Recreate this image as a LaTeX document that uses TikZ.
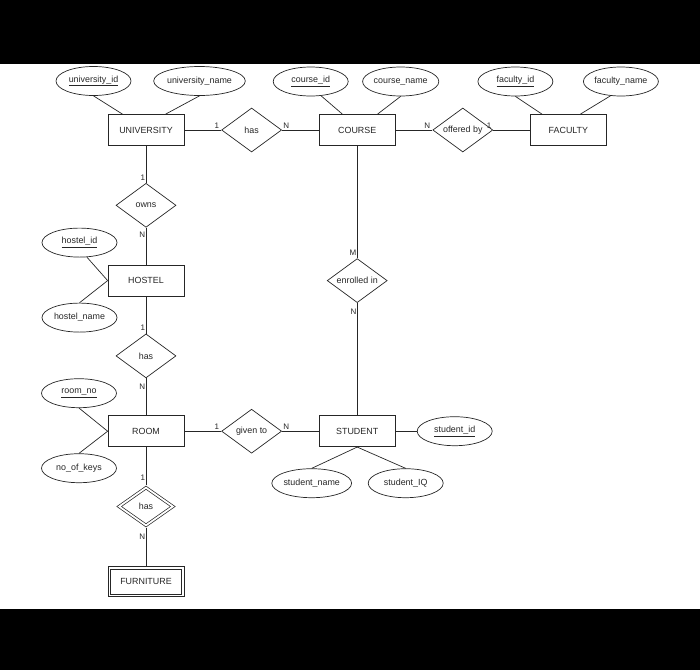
\documentclass[tikz,border=0pt]{standalone}
\usepackage{fontspec}
\setmainfont{Liberation Sans}
\usetikzlibrary{positioning,shapes.geometric}
\begin{document}
\begin{tikzpicture}[x=1pt,y=-1pt,on grid,node distance=75.3pt and 105.6pt,
 font=\fontsize{8.9}{10}\selectfont,
 entity/.style={shape=rectangle,draw=black!85,line width=0.7pt,minimum width=76pt,minimum height=31pt,inner sep=0pt,text=black!85},
 weakent/.style={shape=rectangle,draw=black!85,line width=0.8pt,minimum width=76pt,minimum height=30pt,inner sep=0pt,text=black!85},
 rel/.style={shape=diamond,aspect=1.36,draw=black!85,line width=0.7pt,minimum width=60pt,minimum height=44pt,inner sep=0pt,text=black!85},
 weakrel/.style={shape=diamond,aspect=1.36,draw=black!85,line width=0.7pt,double,double distance=1.8pt,minimum width=55pt,minimum height=39pt,inner sep=0pt,outer sep=1.6pt,text=black!85},
 attr/.style={shape=ellipse,draw=black!85,line width=0.7pt,minimum width=75pt,minimum height=29pt,inner sep=0pt,text=black!85},
 card/.style={inner sep=1.5pt,text=black!85,font=\fontsize{8}{9}\selectfont},
 link/.style={draw=black!85,line width=0.7pt}]
 \useasboundingbox (0,0) rectangle (700,670);
 \fill[black] (0,0) rectangle (700,64);
 \fill[black] (0,609) rectangle (700,670);

 \node[entity] (univ) at (146,130) {UNIVERSITY};
 \node[rel] (has1) [right=of univ] {has};
 \node[entity] (course) [right=of has1] {COURSE};
 \node[rel] (offer) [right=of course] {offered by};
 \node[entity] (fac) [right=of offer] {FACULTY};
 \node[rel] (owns) [below=of univ] {owns};
 \node[entity] (hostel) [below=of owns] {HOSTEL};
 \node[rel] (has2) [below=of hostel] {has};
 \node[entity] (room) [below=of has2] {ROOM};
 \node[weakrel] (has3) [below=of room] {has};
 \node[weakent] (furn) [below=of has3] {FURNITURE};
 \node[rel] (given) [right=of room] {given to};
 \node[entity] (student) [right=of given] {STUDENT};
 \node[rel] (enrol) at (course |- hostel) {enrolled in};
 \draw[black!85,line width=0.8pt] ([xshift=3pt,yshift=-3pt]furn.north west) rectangle ([xshift=-3pt,yshift=3pt]furn.south east);

 \node[attr] (uid) [above left=49pt and 52.5pt of univ] {\underline{university\_id}};
 \node[attr] (uname) [above right=49pt and 53.5pt of univ] {university\_name};
 \node[attr] (cid) [above left=48.5pt and 46.5pt of course] {\underline{course\_id}};
 \node[attr] (cname) [above right=48.5pt and 43.5pt of course] {course\_name};
 \node[attr] (fid) [above left=48.5pt and 53pt of fac] {\underline{faculty\_id}};
 \node[attr] (fname) [above right=48.5pt and 52.5pt of fac] {faculty\_name};
 \node[attr] (hid) [above left=38pt and 66.5pt of hostel] {\underline{hostel\_id}};
 \node[attr] (hname) [below left=37pt and 66.5pt of hostel] {hostel\_name};
 \node[attr] (rno) [above left=38pt and 67pt of room] {\underline{room\_no}};
 \node[attr] (nok) [below left=37pt and 67pt of room] {no\_of\_keys};
 \node[attr] (sid) [right=97.5pt of student] {\underline{student\_id}};
 \node[attr] (sname) [below left=52pt and 45.5pt of student] {student\_name};
 \node[attr] (siq) [below right=52pt and 48.5pt of student] {student\_IQ};

 \draw[link] (univ) -- node[card,pos=0.88,above]{1} (has1);
 \draw[link] (has1) -- node[card,pos=0.12,above]{N} (course);
 \draw[link] (course) -- node[card,pos=0.86,above]{N} (offer);
 \draw[link] (offer) -- node[card,pos=0.0,above left]{1} (fac);
 \draw[link] (univ) -- node[card,pos=0.85,left,inner sep=0.5pt]{1} (owns);
 \draw[link] (owns) -- node[card,pos=0.18,left,inner sep=0.5pt]{N} (hostel);
 \draw[link] (hostel) -- node[card,pos=0.83,left,inner sep=0.5pt]{1} (has2);
 \draw[link] (has2) -- node[card,pos=0.23,left,inner sep=0.5pt]{N} (room);
 \draw[link] (room) -- node[card,pos=0.88,above]{1} (given);
 \draw[link] (given) -- node[card,pos=0.12,above]{N} (student);
 \draw[link] (course) -- node[card,pos=0.95,left,inner sep=0.5pt]{M} (enrol);
 \draw[link] (enrol) -- node[card,pos=0.08,left,inner sep=0.5pt]{N} (student);
 \draw[link] (room) -- node[card,pos=0.8,left,inner sep=0.5pt]{1} (has3);
 \draw[link] (has3) -- node[card,pos=0.23,left,inner sep=0.5pt]{N} (furn);

 \draw[link] (uid.south) -- (univ.146);
 \draw[link] (uname.south) -- (univ.39);
 \draw[link] (cid.-54) -- (course.133);
 \draw[link] (cname.south) -- (course.38);
 \draw[link] (fid.south) -- (fac.149);
 \draw[link] (fname.-126) -- (fac.53);
 \draw[link] (hid.-63) -- (hostel.west);
 \draw[link] (hname.north) -- (hostel.west);
 \draw[link] (rno.south) -- (room.west);
 \draw[link] (nok.north) -- (room.west);
 \draw[link] (student) -- (sid);
 \draw[link] (sname.north) -- (student.south);
 \draw[link] (siq.north) -- (student.south);
\end{tikzpicture}
\end{document}
